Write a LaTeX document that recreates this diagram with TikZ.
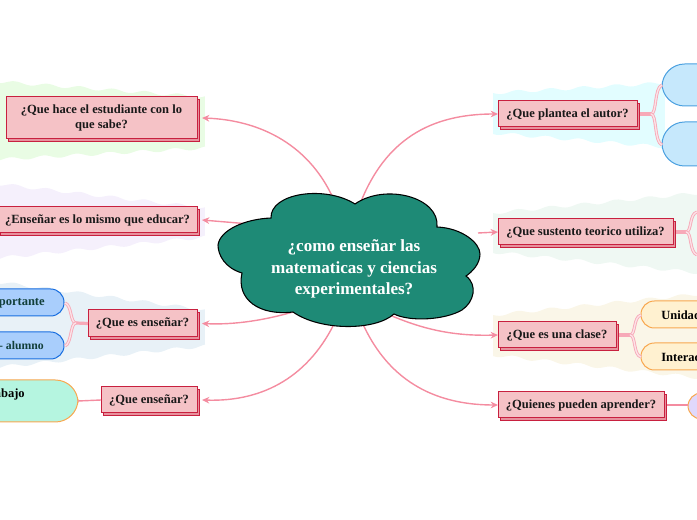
\documentclass[tikz,border=0pt]{standalone}
\usepackage{fontspec}
\setmainfont{Liberation Serif}
\usetikzlibrary{arrows.meta}
\definecolor{linkc}{HTML}{F48CA0}
\definecolor{boxfill}{HTML}{F5C2C6}
\definecolor{boxline}{HTML}{C8203F}
\definecolor{cloudc}{HTML}{1E8A76}
\definecolor{blobA}{HTML}{E9FCE4}
\definecolor{blobB}{HTML}{F5F0FC}
\definecolor{blobC}{HTML}{E8F1F7}
\definecolor{blobD}{HTML}{E2FDFF}
\definecolor{blobE}{HTML}{EFF8F3}
\definecolor{blobF}{HTML}{FAF6E8}
\definecolor{pillblue}{HTML}{A9CEFC}
\definecolor{pillblueb}{HTML}{1A6FE0}
\definecolor{pillmint}{HTML}{B5F5E0}
\definecolor{pillorb}{HTML}{F8A850}
\definecolor{pillsky}{HTML}{C6E8FC}
\definecolor{pillskyb}{HTML}{4AA0E0}
\definecolor{pillcream}{HTML}{FFF1D0}
\definecolor{pillviolet}{HTML}{E0D8FC}
\definecolor{darkgreen}{HTML}{123F3A}
\tikzset{
  x=0.75pt,y=-0.75pt,
  qbox/.style={draw=boxline,fill=boxfill,line width=0.75pt,inner sep=0pt,align=center,font=\fontsize{9.4}{11.2}\selectfont\bfseries,text=black!90},
  shad/.style={draw=boxline,fill=boxfill!70!boxline,line width=0.75pt},
  link/.style={draw=linkc,line width=1.05pt},
  arrowed/.style={link,-{Stealth[length=5.5pt,width=5pt]}},
  stem/.style={draw=linkc!75,line width=2.4pt},
  branch/.style={draw=linkc!75,line width=0.65pt,double=linkc!25,double distance=1pt},
  pill/.style={line width=0.75pt,rounded corners=10pt},
  pilltext/.style={font=\fontsize{9.4}{12}\selectfont\bfseries,inner sep=0pt},
}
\newcommand{\qnode}[6]{% name, x1, y1, x2, y2, text
  \fill[shad] (#2+2.5,#3+2.5) rectangle (#4+2.5,#5+2.5);
  \path[qbox] (#2,#3) rectangle (#4,#5);
  \node[font=\fontsize{9.4}{11.2}\selectfont\bfseries,align=center,inner sep=0pt,text=black!90] (#1) at ({(#2+#4)/2},{(#3+#5)/2}) {#6};
  \coordinate (#1e) at (#4+5,{(#3+#5)/2});
  \coordinate (#1s) at (#4+3,{(#3+#5)/2});
  \coordinate (#1w) at (#2,{(#3+#5)/2});
}
\newcommand{\wavy}[7]{% colour, x1, ytop1, x2, ytop2, ybot2, ybot1
  \fill[#1] plot[domain=0:1,samples=70,smooth] ({#2+(#4-#2)*\x},{#3+(#5-#3)*\x+1.6*sin(\x*(#4-#2)*11)})
   -- plot[domain=1:0,samples=70,smooth] ({#2+(#4-#2)*\x},{#7+(#6-#7)*\x+1.6*sin(\x*(#4-#2)*11+40)}) -- cycle;
}
\begin{document}
\begin{tikzpicture}
\useasboundingbox (0,0) rectangle (697,520);
\begin{scope}
\clip (0,0) rectangle (697,520);
% wavy backgrounds
\wavy{blobA}{-10}{81}{205}{97}{148}{160}
\wavy{blobB}{-10}{183}{205}{208}{237}{259}
\wavy{blobC}{-10}{281}{205}{310}{346}{368}
\wavy{blobD}{493}{93}{665}{83}{147}{133}
\wavy{blobE}{493}{213}{710}{192}{274}{252}
\wavy{blobF}{493}{315}{710}{293}{379}{355}
% pills
\draw[pill,draw=pillblueb,fill=pillblue] (-30,289) rectangle (64,316);
\draw[pill,draw=pillblueb,fill=pillblue] (-30,332) rectangle (64,359);
\draw[pill,rounded corners=17pt,draw=pillorb,fill=pillmint] (-30,380) rectangle (78,422);
\draw[pill,rounded corners=17pt,draw=pillskyb,fill=pillsky] (662,64) rectangle (740,106);
\draw[pill,rounded corners=17pt,draw=pillskyb,fill=pillsky] (662,122) rectangle (740,166);
\draw[pill,draw=pillorb,fill=pillcream] (641,301) rectangle (740,328);
\draw[pill,draw=pillorb,fill=pillcream] (641,343) rectangle (740,370);
\draw[pill,draw=pillorb,fill=pillviolet] (688,393) rectangle (740,419);
\node[pilltext,anchor=east,text=darkgreen] (lp1) at (45,303) {portante};
\node[pilltext,anchor=east,text=darkgreen,font=\fontsize{8.8}{12}\selectfont\bfseries] (lp2) at (44,346) {- alumno};
\node[pilltext,anchor=east] (lp3) at (25,394) {nbajo};
\node[pilltext,anchor=west] (rp3) at (661,315) {Unidad};
\node[pilltext,anchor=west] (rp4) at (661,357) {Interac};
% boxes
\qnode{q1}{6}{97}{197}{139}{¿Que hace el estudiante con lo\\que sabe?}
\qnode{q2}{-2}{207}{197}{233}{¿Enseñar es lo mismo que educar?}
\qnode{q3}{88}{310}{197}{337}{¿Que es enseñar?}
\qnode{q4}{101}{387}{197}{413}{¿Que enseñar?}
\qnode{r1}{498}{101}{637}{127}{¿Que plantea el autor?}
\qnode{r2}{498}{219}{673}{245}{¿Que sustento teorico utiliza?}
\qnode{r3}{498}{322}{616}{348}{¿Que es una clase?}
\qnode{r4}{498}{392}{664}{418}{¿Quienes pueden aprender?}
% named ends
\coordinate (a1) at (336,205);
\coordinate (a2) at (250,224);
\coordinate (a3) at (293,312);
\coordinate (a4) at (336,320);
\coordinate (b1) at (360,204);
\coordinate (b2) at (478,233);
\coordinate (b3) at (392,316);
\coordinate (b4) at (362,322);
% connectors
\draw[arrowed] (a1) .. controls (312,145) and (260,120) .. (q1e);
\draw[arrowed] (a2) -- (q2e);
\draw[arrowed] (a3) .. controls (265,320) and (235,325) .. (q3e);
\draw[arrowed] (a4) .. controls (310,375) and (265,402) .. (q4e);
\draw[arrowed] (b1) .. controls (385,140) and (430,114) .. (r1w);
\draw[arrowed] (b2) -- (r2w);
\draw[arrowed] (b3) .. controls (430,332) and (460,336) .. (r3w);
\draw[arrowed] (b4) .. controls (390,385) and (440,405) .. (r4w);
% stems and branches
\coordinate (j3) at (76,323);
\coordinate (j5) at (651,114);
\coordinate (j6) at (686,232);
\coordinate (j7) at (630,335);
\draw[stem] (q3w) -- (j3);
\draw[branch] (j3) .. controls (70,323) and (72,305) .. (65,303);
\draw[branch] (j3) .. controls (70,323) and (72,343) .. (65,346);
\draw[link] (q4w) -- (78,401);
\draw[stem] (r1s) -- (j5);
\draw[branch] (j5) .. controls (657,114) and (654,88) .. (662,85);
\draw[branch] (j5) .. controls (657,114) and (654,142) .. (662,145);
\draw[stem] (r2s) -- (j6);
\draw[branch] (j6) .. controls (692,232) and (689,214) .. (697,212);
\draw[branch] (j6) .. controls (692,232) and (689,252) .. (697,255);
\draw[stem] (r3s) -- (j7);
\draw[branch] (j7) .. controls (636,335) and (633,317) .. (641,315);
\draw[branch] (j7) .. controls (636,335) and (633,355) .. (641,357);
\draw[link] (r4s) -- (688,405);
% cloud
\draw[draw=black,line width=0.8pt,fill=cloudc]
 (271,218) .. controls (270,193) and (325,185) .. (355,204)
 .. controls (385,183) and (440,197) .. (437,227)
 .. controls (462,228) and (480,243) .. (480,254)
 .. controls (480,264) and (472,272) .. (466,276)
 .. controls (478,285) and (474,302) .. (462,310)
 .. controls (445,320) and (410,322) .. (394,314)
 .. controls (375,331) and (320,331) .. (293,312)
 .. controls (260,316) and (236,300) .. (242,273)
 .. controls (225,268) and (218,255) .. (218,245)
 .. controls (220,230) and (245,219) .. (271,218) -- cycle;
\node[align=center,text=white,inner sep=0pt,font=\fontsize{12.8}{16.3}\selectfont\bfseries] (c) at (354,269) {¿como enseñar las\\matematicas y ciencias\\experimentales?};
\end{scope}
\end{tikzpicture}
\end{document}
